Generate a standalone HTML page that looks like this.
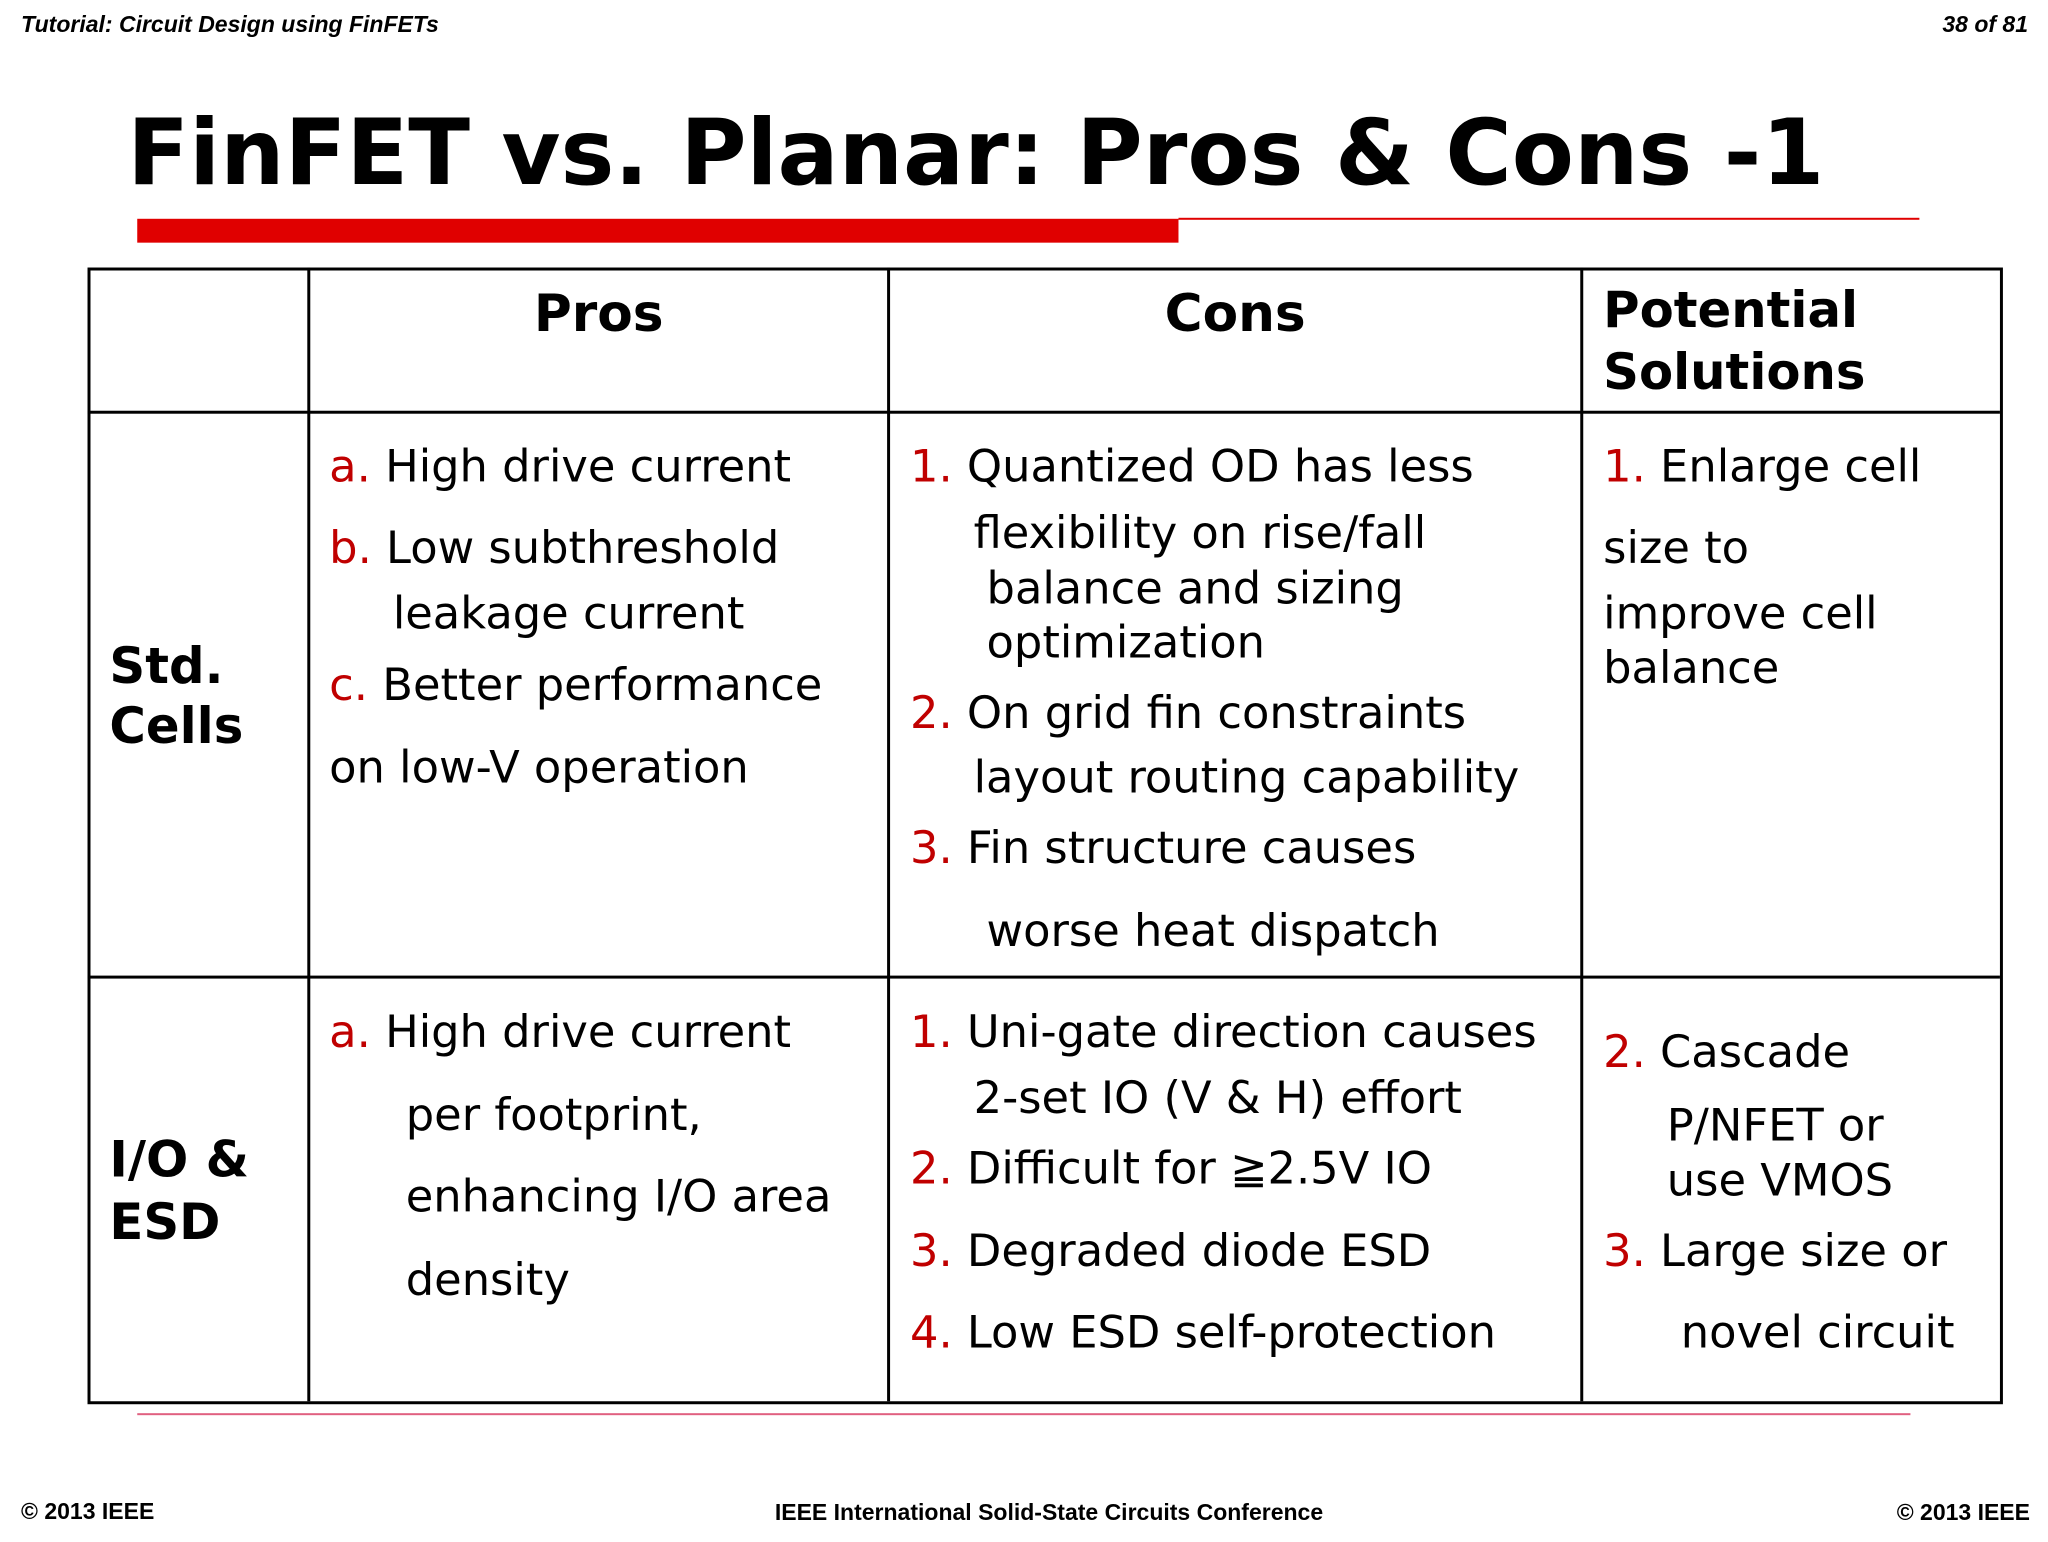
<!DOCTYPE html>
<html><head><meta charset="utf-8"><style>
body{margin:0;width:2048px;height:1536px;background:#fff;position:relative;overflow:hidden;font-family:"DejaVu Sans","Liberation Sans",sans-serif;color:#000}
.t{position:absolute;white-space:nowrap;line-height:60px;height:60px;font-size:45px}
.r{color:#c00000}
.b{font-weight:bold}
.ln{position:absolute;background:#000}
#wrap{position:absolute;left:0;top:0;width:2048px;height:1536px;transform:scale(0.9945);transform-origin:0 0}
.hf{font:italic bold 23px 'Liberation Sans',sans-serif;line-height:60px}
.ff{font:bold 23px 'Liberation Sans',sans-serif;line-height:60px}
</style></head><body>
<div class="t hf" style="left:21px;top:-6px">Tutorial: Circuit Design using FinFETs</div>
<div class="t hf" style="right:20px;top:-6px">38 of 81</div>
<div id="wrap">
<div class="t b" style="left:128px;top:100px;font-size:91px;line-height:110px;height:110px">FinFET vs. Planar: Pros &amp; Cons -1</div>
<div style="position:absolute;left:138px;top:220px;width:1047px;height:24px;background:#e00000"></div>
<div style="position:absolute;left:1185px;top:219px;width:745px;height:2px;background:#e00000"></div>

<div style="position:absolute;left:88px;top:269px;width:1920px;height:1137px;border:3px solid #000"></div>
<div class="ln" style="left:309px;top:269px;width:3px;height:1140px"></div>
<div class="ln" style="left:892px;top:269px;width:3px;height:1140px"></div>
<div class="ln" style="left:1589px;top:269px;width:3px;height:1140px"></div>
<div class="ln" style="left:88px;top:413px;width:1923px;height:3px"></div>
<div class="ln" style="left:88px;top:981px;width:1923px;height:3px"></div>

<div class="t b" style="left:312px;width:580px;text-align:center;top:286px;font-size:52px">Pros</div>
<div class="t b" style="left:895px;width:694px;text-align:center;top:286px;font-size:52px">Cons</div>
<div class="t b" style="left:1612px;top:282px;font-size:50px">Potential</div>
<div class="t b" style="left:1612px;top:344px;font-size:50px">Solutions</div>

<div class="t b" style="left:110px;top:640px;font-size:50px">Std.</div>
<div class="t b" style="left:110px;top:700px;font-size:50px">Cells</div>
<div class="t b" style="left:110px;top:1136px;font-size:50px">I/O &amp;</div>
<div class="t b" style="left:110px;top:1199px;font-size:50px">ESD</div>

<div class="t" style="left:331px;top:439px"><span class="r">a.</span> High drive current</div>
<div class="t" style="left:331px;top:521px"><span class="r">b.</span> Low subthreshold</div>
<div class="t" style="left:395px;top:587px">leakage current</div>
<div class="t" style="left:331px;top:659px"><span class="r">c.</span> Better performance</div>
<div class="t" style="left:331px;top:742px">on low-V operation</div>

<div class="t" style="left:915px;top:439px"><span class="r">1.</span> Quantized OD has less</div>
<div class="t" style="left:979px;top:506px">flexibility on rise/fall</div>
<div class="t" style="left:992px;top:562px">balance and sizing</div>
<div class="t" style="left:992px;top:616px">optimization</div>
<div class="t" style="left:915px;top:687px"><span class="r">2.</span> On grid fin constraints</div>
<div class="t" style="left:979px;top:752px">layout routing capability</div>
<div class="t" style="left:915px;top:823px"><span class="r">3.</span> Fin structure causes</div>
<div class="t" style="left:992px;top:906px">worse heat dispatch</div>

<div class="t" style="left:1612px;top:439px"><span class="r">1.</span> Enlarge cell</div>
<div class="t" style="left:1612px;top:521px">size to</div>
<div class="t" style="left:1612px;top:587px">improve cell</div>
<div class="t" style="left:1612px;top:642px">balance</div>

<div class="t" style="left:331px;top:1008px"><span class="r">a.</span> High drive current</div>
<div class="t" style="left:408px;top:1091px">per footprint,</div>
<div class="t" style="left:408px;top:1173px">enhancing I/O area</div>
<div class="t" style="left:408px;top:1257px">density</div>

<div class="t" style="left:915px;top:1008px"><span class="r">1.</span> Uni-gate direction causes</div>
<div class="t" style="left:979px;top:1074px">2-set IO (V &amp; H) effort</div>
<div class="t" style="left:915px;top:1145px"><span class="r">2.</span> Difficult for ≧2.5V IO</div>
<div class="t" style="left:915px;top:1228px"><span class="r">3.</span> Degraded diode ESD</div>
<div class="t" style="left:915px;top:1310px"><span class="r">4.</span> Low ESD self-protection</div>

<div class="t" style="left:1612px;top:1028px"><span class="r">2.</span> Cascade</div>
<div class="t" style="left:1676px;top:1102px">P/NFET or</div>
<div class="t" style="left:1676px;top:1157px">use VMOS</div>
<div class="t" style="left:1612px;top:1228px"><span class="r">3.</span> Large size or</div>
<div class="t" style="left:1690px;top:1310px">novel circuit</div>

<div style="position:absolute;left:138px;top:1421px;width:1783px;height:2px;background:#e06080"></div>
</div>
<div class="t ff" style="left:21px;top:1481px">© 2013 IEEE</div>
<div class="t ff" style="left:0;width:2098px;text-align:center;top:1482px">IEEE International Solid-State Circuits Conference</div>
<div class="t ff" style="right:18px;top:1482px">© 2013 IEEE</div>
</body></html>
